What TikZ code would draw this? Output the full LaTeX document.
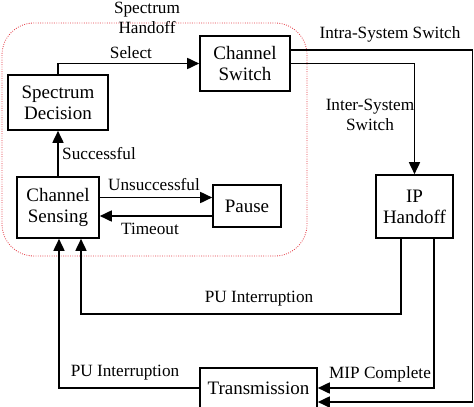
\documentclass[tikz,border=0pt]{standalone}
\usepackage{fontspec}
\setmainfont{Liberation Serif}
\usetikzlibrary{calc,arrows.meta}
\definecolor{handoffred}{RGB}{228,60,70}

\begin{document}
\begin{tikzpicture}[x=1pt, y=-1pt,
		box/.style={draw, line width=1.6pt, align=center, inner sep=0pt, font=\fontsize{19}{21}\selectfont},
		lbl/.style={align=center, inner sep=0pt, font=\fontsize{17.2}{20}\selectfont},
		flow/.style={line width=1.7pt, -{Triangle[length=12pt,width=11pt]}}]
		%%%%% START %%%%%
		\useasboundingbox (0, 0) rectangle (474, 407);
		
		\draw[handoffred, line width=0.8pt, dash pattern=on 0.9pt off 1.4pt, rounded corners=32pt] (2, 23) rectangle (307, 256);
		
		\node[box, minimum width=100pt, minimum height=55pt] (decision) at (58, 102.5) {Spectrum\\Decision};
		\node[box, minimum width=90pt, minimum height=55pt] (switch) at (245, 63.5) {Channel\\Switch};
		\node[box, minimum width=82pt, minimum height=61pt] (sensing) at (58, 207.5) {Channel\\Sensing};
		\node[box, minimum width=68pt, minimum height=42pt] (pause) at (247, 206) {Pause};
		\node[box, minimum width=77pt, minimum height=63pt] (handoff) at (414.5, 206.5) {IP\\Handoff};
		\node[box, minimum width=117pt, minimum height=40pt] (trans) at (258.5, 388) {Transmission};
		\coordinate (edge) at (472.5, 402);
		
		\draw[flow] (decision.north) |- (switch.west);
		\draw[flow] (sensing.north) -- (decision.south);
		\draw[flow] ($(sensing.east)+(0,-10)$) coordinate (u) -- (u -| pause.west);
		\draw[flow] ($(pause.west)+(0,10)$) coordinate (t) -- (t -| sensing.east);
		
		\draw[flow] (switch.east) -| (handoff.north);
		\draw[flow] ($(switch.east)+(0,-13.5)$) -| (edge) -- ($(trans.east)+(0,14)$);
		\draw[flow] ($(handoff.south)+(-13.5,0)$) -- ++(0,75) -| ($(sensing.south)+(23,0)$);
		\draw[flow] ($(handoff.south)+(19.5,0)$) |- (trans.east);
		\draw[flow] (trans.west) -| ($(sensing.south)+(1,0)$);
		
		\node[lbl] (lhandoff) at (147, 18) {Spectrum\\Handoff};
		\node[lbl] (lselect) at (131, 53) {Select};
		\node[lbl] (lintra) at (390, 34) {Intra-System Switch};
		\node[lbl] (linter) at (370, 115) {Inter-System\\Switch};
		\node[lbl] (lsucc) at (99, 154) {Successful};
		\node[lbl] (lunsucc) at (154, 185) {Unsuccessful};
		\node[lbl] (ltimeout) at (150, 229) {Timeout};
		\node[lbl] (lpu) at (259, 299) {PU Interruption};
		\node[lbl] (lpubottom) at (125, 373) {PU Interruption};
		\node[lbl] (lmip) at (380, 374) {MIP Complete};
		%%%%% END %%%%%
	\end{tikzpicture}
\end{document}
